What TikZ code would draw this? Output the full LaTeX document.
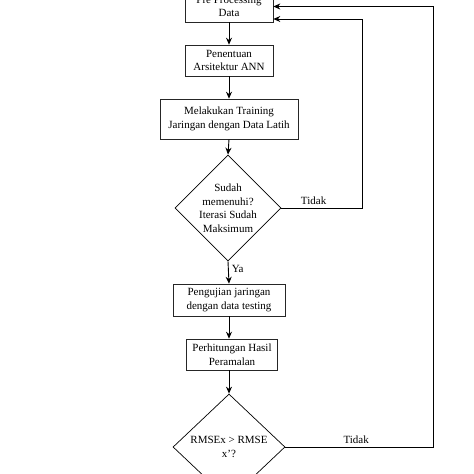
\documentclass[tikz,border=0pt]{standalone}
\usepackage{fontspec}
\setmainfont{Liberation Serif}
\usetikzlibrary{shapes.geometric,arrows.meta}
\begin{document}
\begin{tikzpicture}[x=1pt,y=-1pt,
  font=\fontsize{11}{13.5}\selectfont,
  box/.style={draw=black!85,line width=0.6pt,align=center,inner sep=0pt,fill=white},
  dia/.style={draw=black,line width=0.7pt,shape=diamond,inner sep=0pt,minimum width=#1,minimum height=106pt},
  txt/.style={align=center,inner sep=0pt},
  arr/.style={line width=0.9pt,-{Stealth[length=7pt,width=6pt]}},
  ln/.style={line width=0.9pt}]
\useasboundingbox (0,0) rectangle (474,474);
\clip (0,0) rectangle (474,474);
\node[box,minimum width=88pt,minimum height=31pt] (b1) at (229,6.5) {Pre Processing\\Data};
\node[box,minimum width=88pt,minimum height=31pt] (b2) at (229,60.5) {Penentuan\\Arsitektur ANN};
\node[box,minimum width=138pt,minimum height=40pt] (b3) at (229,119) {Melakukan Training\\Jaringan dengan Data Latih};
\node[dia=106pt] (d1) at (228,208) {};
\node[txt] (d1t) at (228,208) {Sudah\\memenuhi?\\Iterasi Sudah\\Maksimum};
\node[box,minimum width=112pt,minimum height=32pt] (b4) at (229,300) {Pengujian jaringan\\dengan data testing};
\node[box,minimum width=91pt,minimum height=31pt] (b5) at (232,354.5) {Perhitungan Hasil\\Peramalan};
\node[dia=112pt] (d2) at (229,447) {};
\node[txt] (d2t) at (229,447) {RMSEx > RMSE\\x’?};
\coordinate (r1) at (362,208);
\coordinate (r2) at (433,447);
\coordinate (e1) at ([yshift=-12.5pt]b1.east);
\draw[arr] (b1.south) -- (b2.north);
\draw[arr] (b2.south) -- (b3.north);
\draw[arr] (b3.south) -- (d1.north);
\draw[arr] (d1.south) -- node[pos=0.35,right,inner sep=3pt] (ya) {Ya} (b4.north);
\draw[arr] (b4.south) -- (b4.south |- b5.north);
\draw[arr] (b4.south |- b5.south) -- (d2.north);
\draw[arr] (d1.east) -- node[above,pos=0.4,inner sep=3pt] (t1) {Tidak} (r1) -- (r1 |- e1) -- (e1);
\draw[arr] (d2.east) -- node[above,pos=0.48,inner sep=3pt] (t2) {Tidak} (r2) -- (r2 |- b1.east) -- (b1.east);
\end{tikzpicture}
\end{document}
